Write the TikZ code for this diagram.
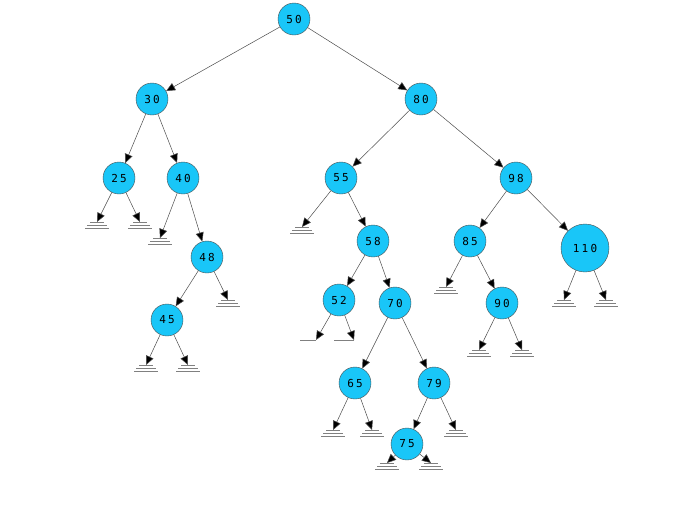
\documentclass[tikz,border=0pt]{standalone}
\usepackage{fontspec}
\setmonofont{DejaVu Sans Mono}
\usetikzlibrary{arrows.meta}
\definecolor{nodeblue}{RGB}{25,198,248}
\begin{document}
\begin{tikzpicture}[x=1pt,y=-1pt,
  bst/.style={circle,draw=black!70,fill=nodeblue,minimum size=32pt,inner sep=0pt,font=\ttfamily\fontsize{11}{11}\selectfont\addfontfeature{LetterSpace=20}},
  edge/.style={draw=black!70,line width=0.5pt,-{Triangle[length=9pt,width=8pt,fill=black]}},
  gnd/.style={draw=gray,line width=0.7pt}]
\useasboundingbox (0,0) rectangle (700,504);
\newcommand{\gsym}[2]{\coordinate (#1) at (#2);
  \draw[gnd] ($(#1)+(-7,0)$) -- ++(14,0);
  \draw[gnd] ($(#1)+(-10,3)$) -- ++(20,0);
  \draw[gnd] ($(#1)+(-12,6)$) -- ++(24,0);}
\node[bst] (n50) at (294,19) {50};
\node[bst] (n30) at (152,99) {30};
\node[bst] (n80) at (421,99) {80};
\node[bst] (n25) at (119,178) {25};
\node[bst] (n40) at (183,178) {40};
\node[bst] (n55) at (341,178) {55};
\node[bst] (n98) at (516,178) {98};
\node[bst] (n48) at (207,257) {48};
\node[bst] (n58) at (373,241) {58};
\node[bst] (n85) at (470,241) {85};
\node[bst,minimum size=48pt] (n110) at (585,248) {110};
\node[bst] (n52) at (339,300) {52};
\node[bst] (n70) at (395,303) {70};
\node[bst] (n90) at (502,303) {90};
\node[bst] (n45) at (167,320) {45};
\node[bst] (n65) at (355,383) {65};
\node[bst] (n79) at (434,383) {79};
\node[bst] (n75) at (407,444) {75};
\foreach \a/\b in {50/30,50/80,30/25,30/40,40/48,48/45,80/55,80/98,55/58,58/52,58/70,70/65,70/79,79/75,98/85,98/110,85/90}
  \draw[edge] (n\a) -- (n\b);
\newcommand{\gsymbol}[2]{}
\foreach \n/\x/\y/\p in {g1/97/222/25,g2/140/222/25,g3/160/238/40,g4/228/300/48,g5/146/365/45,g6/188/365/45,
  g7/302/227/55,g8/333/430/65,g9/372/430/65,g10/456/430/79,g11/387/463/75,g12/431/463/75,
  g13/446/287/85,g14/479/350/90,g15/522/350/90,g16/564/300/110,g17/606/300/110}{
  \coordinate (\n) at (\x,\y);
  \draw[gnd] (\x-7,\y) -- (\x+7,\y);
  \draw[gnd] (\x-10,\y+3) -- (\x+10,\y+3);
  \draw[gnd] (\x-12,\y+6) -- (\x+12,\y+6);
  \draw[edge] (n\p) -- (\n);
}
\coordinate (h1) at (316,340);
\coordinate (h2) at (354,340);
\draw[gnd] (300,340) -- (316,340);
\draw[gnd] (334,340) -- (354,340);
\draw[edge] (n52) -- (h1);
\draw[edge] (n52) -- (h2);
\end{tikzpicture}
\end{document}
